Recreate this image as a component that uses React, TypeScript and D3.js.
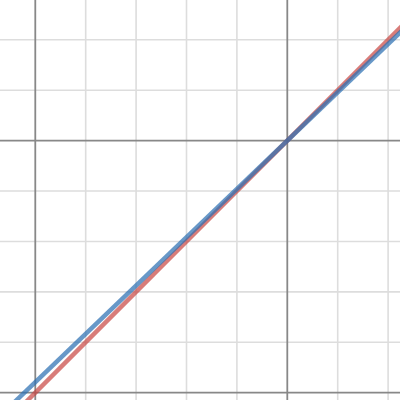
import * as React from "react";
import * as d3 from "d3";

// grid values (unit steps), majors every 5
const xTicks = [-5, -4, -3, -2, -1, 0, 1, 2];
const yTicks = [-5, -4, -3, -2, -1, 0, 1, 2];
const majorTicks = [-5, 0];

// the two lines, end points
const lineX = [-6, 3];
const redY = [-6, 3];
const blueY = [-5.75, 2.875];

export default function App() {
  const width = 400;
  const height = 400;
  const x = d3.scaleLinear([-5.7, 2.236], [0, width]);
  const y = d3.scaleLinear([-5.145, 2.79], [height, 0]);

  const line = d3
    .line<number>()
    .x((_, i) => x(lineX[i]))
    .y((d) => y(d));

  const minorX = xTicks.filter((t) => !majorTicks.includes(t));
  const minorY = yTicks.filter((t) => !majorTicks.includes(t));

  return (
    <svg
      width={width}
      height={height}
      style={{ position: "fixed", left: 0, top: 0, background: "#fff" }}
    >
      <rect width={width} height={height} fill="#fff" />
      <g stroke="#dddddd" strokeWidth={1.6}>
        {minorX.map((t) => (
          <line key={"mx" + t} x1={x(t)} x2={x(t)} y1={0} y2={height} />
        ))}
        {minorY.map((t) => (
          <line key={"my" + t} y1={y(t)} y2={y(t)} x1={0} x2={width} />
        ))}
      </g>
      <g stroke="#888888" strokeWidth={1.8}>
        {majorTicks.map((t) => (
          <line key={"Mx" + t} x1={x(t)} x2={x(t)} y1={0} y2={height} />
        ))}
        {majorTicks.map((t) => (
          <line key={"My" + t} y1={y(t)} y2={y(t)} x1={0} x2={width} />
        ))}
      </g>
      <path
        d={line(redY) ?? ""}
        fill="none"
        stroke="#c74440"
        strokeOpacity={0.7}
        strokeWidth={4.5}
      />
      <path
        d={line(blueY) ?? ""}
        fill="none"
        stroke="#2d70b3"
        strokeOpacity={0.72}
        strokeWidth={4.5}
      />
    </svg>
  );
}
